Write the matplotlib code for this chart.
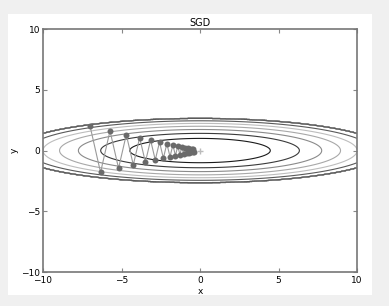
import matplotlib.pyplot as plt
import numpy as np
from matplotlib.patches import Rectangle

# SGD path (x, y), lr = 0.95, start (-7, 2)
x_history = [-7.0, -6.335, -5.7332, -5.1885, -4.6956, -4.2495, -3.8458, -3.4804,
             -3.1498, -2.8506, -2.5798, -2.3347, -2.1129, -1.9122, -1.7305,
             -1.5661, -1.4173, -1.2827, -1.1608, -1.0505, -0.9507, -0.8604,
             -0.7787, -0.7047, -0.6377, -0.5771, -0.5223, -0.4727, -0.4278, -0.3871]
y_history = [2.0, -1.8, 1.62, -1.458, 1.3122, -1.181, 1.0629, -0.9566, 0.8609,
             -0.7748, 0.6974, -0.6276, 0.5649, -0.5084, 0.4575, -0.4118, 0.3706,
             -0.3335, 0.3002, -0.2702, 0.2432, -0.2188, 0.1970, -0.1773, 0.1595,
             -0.1436, 0.1292, -0.1163, 0.1047, -0.0942]
levels = [0, 1, 2, 3, 4, 5, 6, 7]
level_colors = ["#000000", "#1a1a1a", "#3a3a3a", "#8a8a8a", "#a8a8a8",
                "#bdbdbd", "#5a5a5a", "#333333"]
x_ticks = [-10, -5, 0, 5, 10]
y_ticks = [-10, -5, 0, 5, 10]


def f(x, y):
    return x**2 / 20.0 + y**2


gx = np.arange(-10, 10, 0.01)
gy = np.arange(-5, 5, 0.01)
X, Y = np.meshgrid(gx, gy)
Z = f(X, Y)
Z[Z > 7] = 0

fig = plt.figure(figsize=(3.89, 3.06), dpi=100)
fig.patch.set_facecolor("#f0f0f0")
fig.add_artist(Rectangle((0.021, 0.036), 0.935, 0.918, transform=fig.transFigure,
                         facecolor="white", edgecolor="none", zorder=-10))
ax = fig.add_axes([0.1105, 0.111, 0.8075, 0.794])
ax.set_facecolor("white")

ax.contour(X, Y, Z, levels=levels, colors=level_colors, linewidths=0.8)
ax.plot(x_history, y_history, "-", color="#9a9a9a", linewidth=0.8)
ax.plot(x_history, y_history, "o", color="#6a6a6a", markersize=4.3,
        markeredgewidth=0)
ax.plot(0, 0, "+", color="#bbbbbb", markersize=4)

ax.set_xlim(-10, 10)
ax.set_ylim(-10, 10)
ax.set_xticks(x_ticks)
ax.set_yticks(y_ticks)
ax.tick_params(direction="in", top=True, right=True, labelsize=6.5, length=3,
               color="#888888")
ax.tick_params(axis="x", pad=3)
ax.tick_params(axis="y", pad=2)
for s in ax.spines.values():
    s.set_color("#777777")
    s.set_linewidth(1.2)
ax.set_title("SGD", fontsize=7, pad=2)
ax.set_xlabel("x", fontsize=6.5, labelpad=1)
ax.set_ylabel("y", fontsize=6.5, labelpad=2)

plt.savefig("out.png", dpi=100, facecolor=fig.get_facecolor())
